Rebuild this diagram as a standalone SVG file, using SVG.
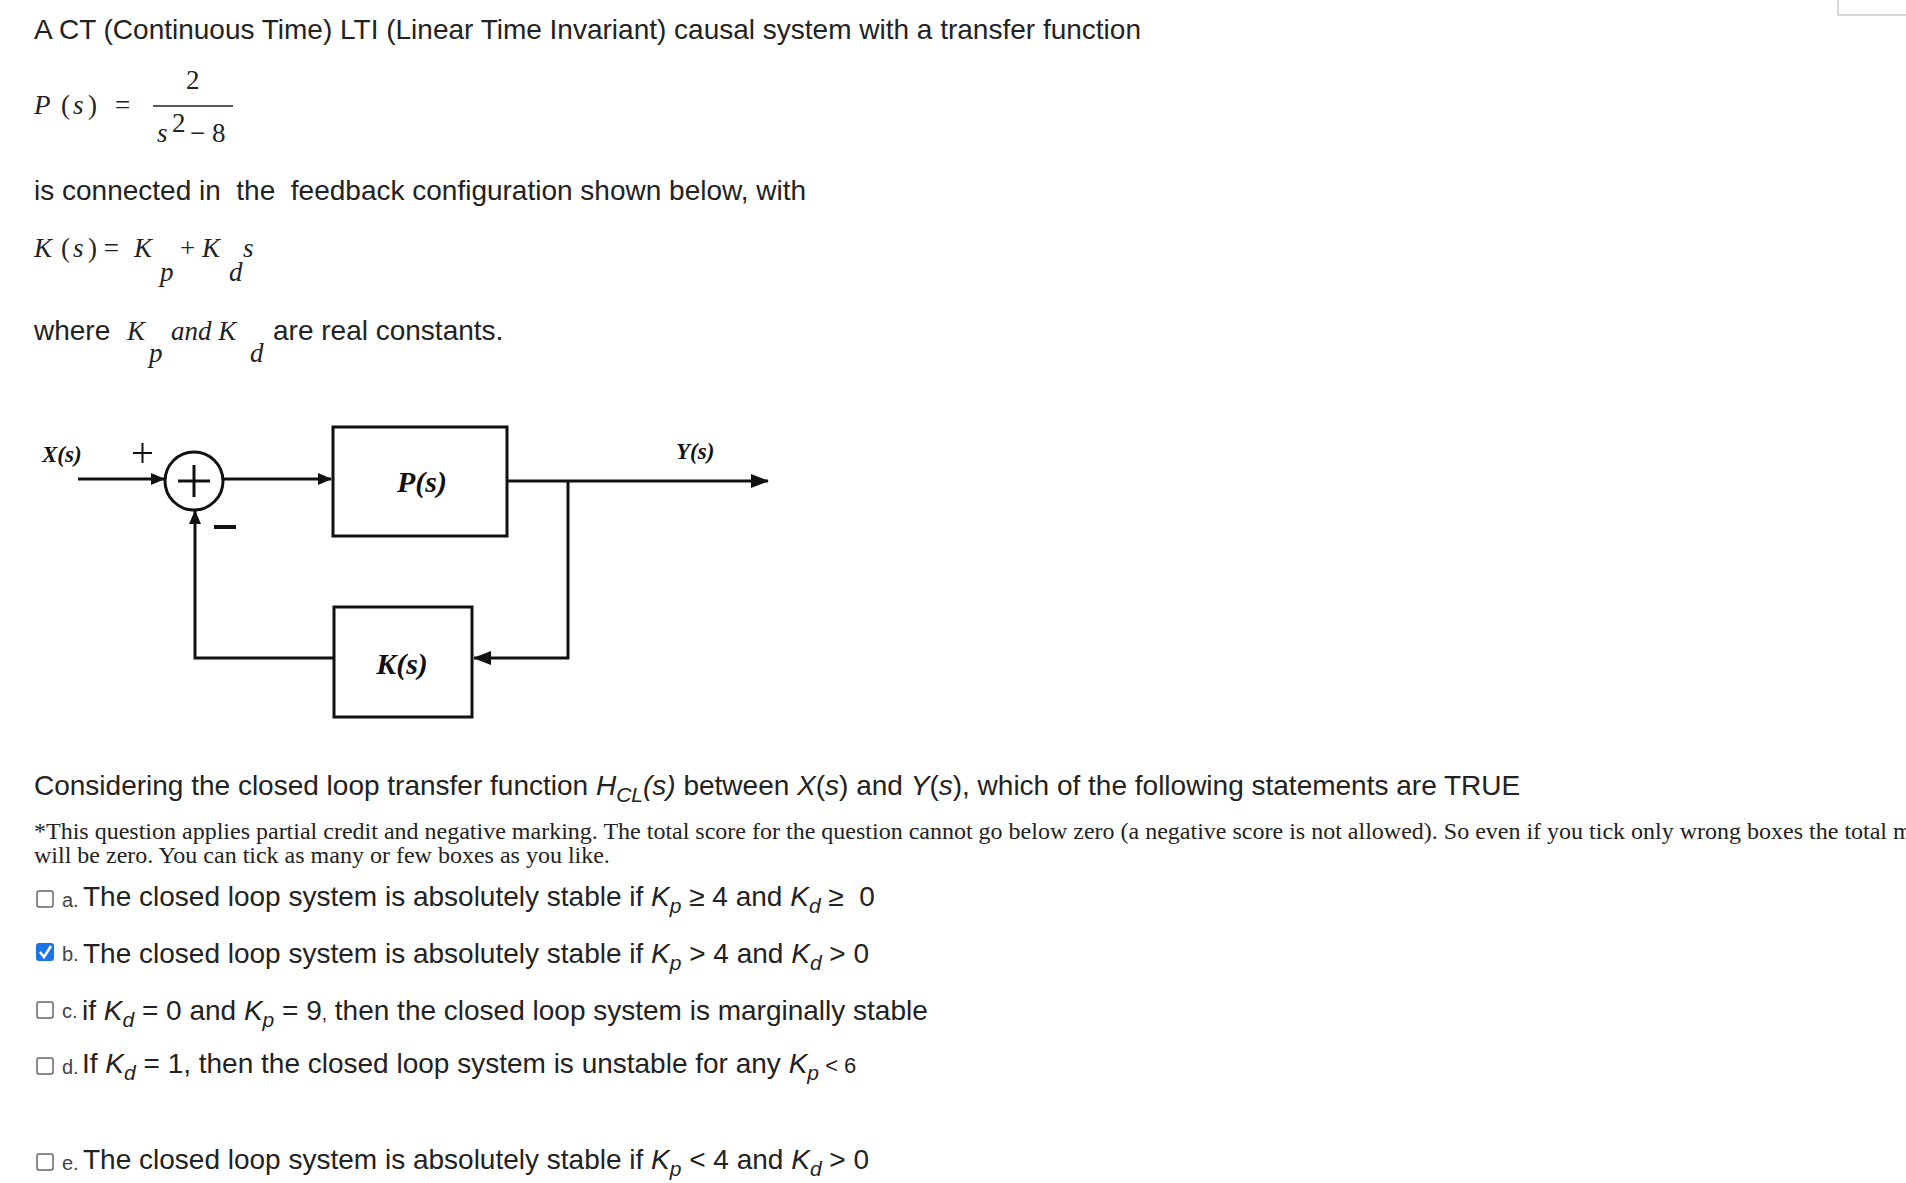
<svg xmlns="http://www.w3.org/2000/svg" width="1906" height="1183" viewBox="0 0 1906 1183" xml:space="preserve">
<style>
.t{font-family:"Liberation Sans",Arial,sans-serif;font-size:28px;fill:#222}
.m{font-family:"Liberation Serif","Times New Roman",serif;font-size:27px;fill:#222}
.mi{font-family:"Liberation Serif","Times New Roman",serif;font-style:italic;font-size:27px;fill:#222}
.d{font-family:"Liberation Serif","Times New Roman",serif;font-style:italic;font-weight:bold;fill:#111}
.n{font-family:"Liberation Serif","Times New Roman",serif;font-size:24px;fill:#222}
.s{font-family:"Liberation Sans",Arial,sans-serif;font-size:20px;fill:#444}
.i{font-style:italic}
.pre{white-space:pre}
.ln{stroke:#111;stroke-width:3;fill:none}
.bx{stroke:#111;stroke-width:3;fill:#fff}
.cb{fill:#fff;stroke:#666;stroke-width:1.5}
</style>
<defs>
<marker id="ah" markerWidth="14" markerHeight="12" refX="13" refY="6" orient="auto" markerUnits="userSpaceOnUse" viewBox="0 0 14 12"><path d="M0,0 L14,6 L0,12 z" fill="#111"/></marker>
<marker id="ah2" markerWidth="18" markerHeight="14" refX="17" refY="7" orient="auto" markerUnits="userSpaceOnUse" viewBox="0 0 18 14"><path d="M0,0 L18,7 L0,14 z" fill="#111"/></marker>
</defs>
<rect width="1906" height="1183" fill="#fff"/>
<rect x="1838" y="-2" width="70" height="17" fill="none" stroke="#ccc" stroke-width="1.5"/>

<text class="t" x="34" y="39">A CT (Continuous Time) LTI (Linear Time Invariant) causal system with a transfer function</text>
<text class="mi" x="34" y="114">P</text><text class="m" x="61" y="114">(</text><text class="mi" x="73" y="114">s</text><text class="m" x="88" y="114">)</text>
<text class="m" x="115" y="114">=</text>
<text class="m" x="186" y="89">2</text>
<line x1="153" y1="106" x2="233" y2="106" stroke="#222" stroke-width="1.5"/>
<text class="mi" x="157" y="142">s</text><text class="m" x="172" y="132" font-size="20">2</text><text class="m" x="190" y="142">− 8</text>

<text class="t pre" x="34" y="200">is connected in  the  feedback configuration shown below, with</text>
<text class="mi" x="34" y="257">K</text><text class="m" x="61" y="257">(</text><text class="mi" x="73" y="257">s</text><text class="m" x="88" y="257">) =</text><text class="mi" x="134" y="257">K</text>
<text class="m" x="180" y="257">+</text><text class="mi" x="202" y="257">K</text><text class="mi" x="243" y="257">s</text>
<text class="mi" x="160" y="281" font-size="21">p</text><text class="mi" x="229" y="281" font-size="21">d</text>

<text class="t" x="34" y="340">where</text>
<text class="mi" x="127" y="340">K</text><text class="mi" x="171" y="340">and K</text><text class="t" x="273" y="340">are real constants.</text>
<text class="mi" x="149" y="362" font-size="21">p</text><text class="mi" x="250" y="362" font-size="21">d</text>

<g id="connectors">
<line class="ln" x1="78" y1="479" x2="164" y2="479" marker-end="url(#ah)"/>
<line class="ln" x1="224" y1="479" x2="331" y2="479" marker-end="url(#ah)"/>
<line class="ln" x1="507" y1="481" x2="768" y2="481" marker-end="url(#ah2)"/>
<polyline class="ln" points="568,481 568,658 474,658" marker-end="url(#ah2)"/>
<polyline class="ln" points="334,658 195,658 195,511" marker-end="url(#ah)"/>
</g>
<g id="sum">
<circle cx="194" cy="481" r="29" fill="#fff" stroke="#111" stroke-width="3"/>
<line x1="194" y1="465" x2="194" y2="497" stroke="#111" stroke-width="3"/>
<line x1="178" y1="481" x2="210" y2="481" stroke="#111" stroke-width="3"/>
<line x1="133" y1="453" x2="152" y2="453" stroke="#111" stroke-width="2"/>
<line x1="142.5" y1="443" x2="142.5" y2="463" stroke="#111" stroke-width="2"/>
<rect x="214" y="525" width="22" height="4" fill="#111"/>
</g>
<g id="xlabel"><text class="d" x="42" y="462" font-size="23">X(s)</text></g>
<g id="ylabel"><text class="d" x="676" y="459" font-size="23">Y(s)</text></g>
<g id="P">
<rect class="bx" x="333" y="427" width="174" height="109"/>
<text class="d" x="422" y="492" font-size="30" text-anchor="middle">P(s)</text>
</g>
<g id="K">
<rect class="bx" x="334" y="607" width="138" height="110"/>
<text class="d" x="402" y="674" font-size="30" text-anchor="middle">K(s)</text>
</g>

<text class="t" x="34" y="795">Considering the closed loop transfer function <tspan class="i">H</tspan><tspan class="i" font-size="21" dy="7">CL</tspan><tspan class="i" dy="-7">(s)</tspan> between <tspan class="i">X</tspan>(<tspan class="i">s</tspan>) and <tspan class="i">Y</tspan>(<tspan class="i">s</tspan>), which of the following statements are TRUE</text>
<text class="n" x="34" y="839">*This question applies partial credit and negative marking. The total score for the question cannot go below zero (a negative score is not allowed). So even if you tick only wrong boxes the total mark</text>
<text class="n" x="34" y="863">will be zero. You can tick as many or few boxes as you like.</text>

<rect class="cb" x="37" y="891" width="16" height="16" rx="2"/>
<text class="s" x="62" y="907">a.</text>
<text class="t pre" x="83" y="906">The closed loop system is absolutely stable if <tspan class="i">K</tspan><tspan class="i" font-size="21" dy="7">p</tspan><tspan dy="-7"> ≥ 4 and </tspan><tspan class="i">K</tspan><tspan class="i" font-size="21" dy="7">d</tspan><tspan dy="-7"> ≥  0</tspan></text>

<rect x="36" y="943" width="18" height="18" rx="3" fill="#1a73e8"/>
<path d="M40,952 L44,957 L51,946" stroke="#fff" stroke-width="2.5" fill="none"/>
<text class="s" x="62" y="961">b.</text>
<text class="t" x="83" y="963">The closed loop system is absolutely stable if <tspan class="i">K</tspan><tspan class="i" font-size="21" dy="7">p</tspan><tspan dy="-7"> &gt; 4 and </tspan><tspan class="i">K</tspan><tspan class="i" font-size="21" dy="7">d</tspan><tspan dy="-7"> &gt; 0</tspan></text>

<rect class="cb" x="37" y="1002" width="16" height="16" rx="2"/>
<text class="s" x="62" y="1018">c.</text>
<text class="t" x="82" y="1020">if <tspan class="i">K</tspan><tspan class="i" font-size="21" dy="7">d</tspan><tspan dy="-7"> = 0 and </tspan><tspan class="i">K</tspan><tspan class="i" font-size="21" dy="7">p</tspan><tspan dy="-7"> = 9</tspan><tspan font-size="19">,</tspan> then the closed loop system is marginally stable</text>

<rect class="cb" x="37" y="1058" width="16" height="16" rx="2"/>
<text class="s" x="62" y="1074">d.</text>
<text class="t" x="82" y="1073">If <tspan class="i">K</tspan><tspan class="i" font-size="21" dy="7">d</tspan><tspan dy="-7"> = 1, then the closed loop system is unstable for any </tspan><tspan class="i">K</tspan><tspan class="i" font-size="21" dy="7">p</tspan><tspan dy="-7" font-size="22"> &lt; 6</tspan></text>

<rect class="cb" x="37" y="1154" width="16" height="16" rx="2"/>
<text class="s" x="62" y="1170">e.</text>
<text class="t" x="83" y="1169">The closed loop system is absolutely stable if <tspan class="i">K</tspan><tspan class="i" font-size="21" dy="7">p</tspan><tspan dy="-7"> &lt; 4 and </tspan><tspan class="i">K</tspan><tspan class="i" font-size="21" dy="7">d</tspan><tspan dy="-7"> &gt; 0</tspan></text>
</svg>
